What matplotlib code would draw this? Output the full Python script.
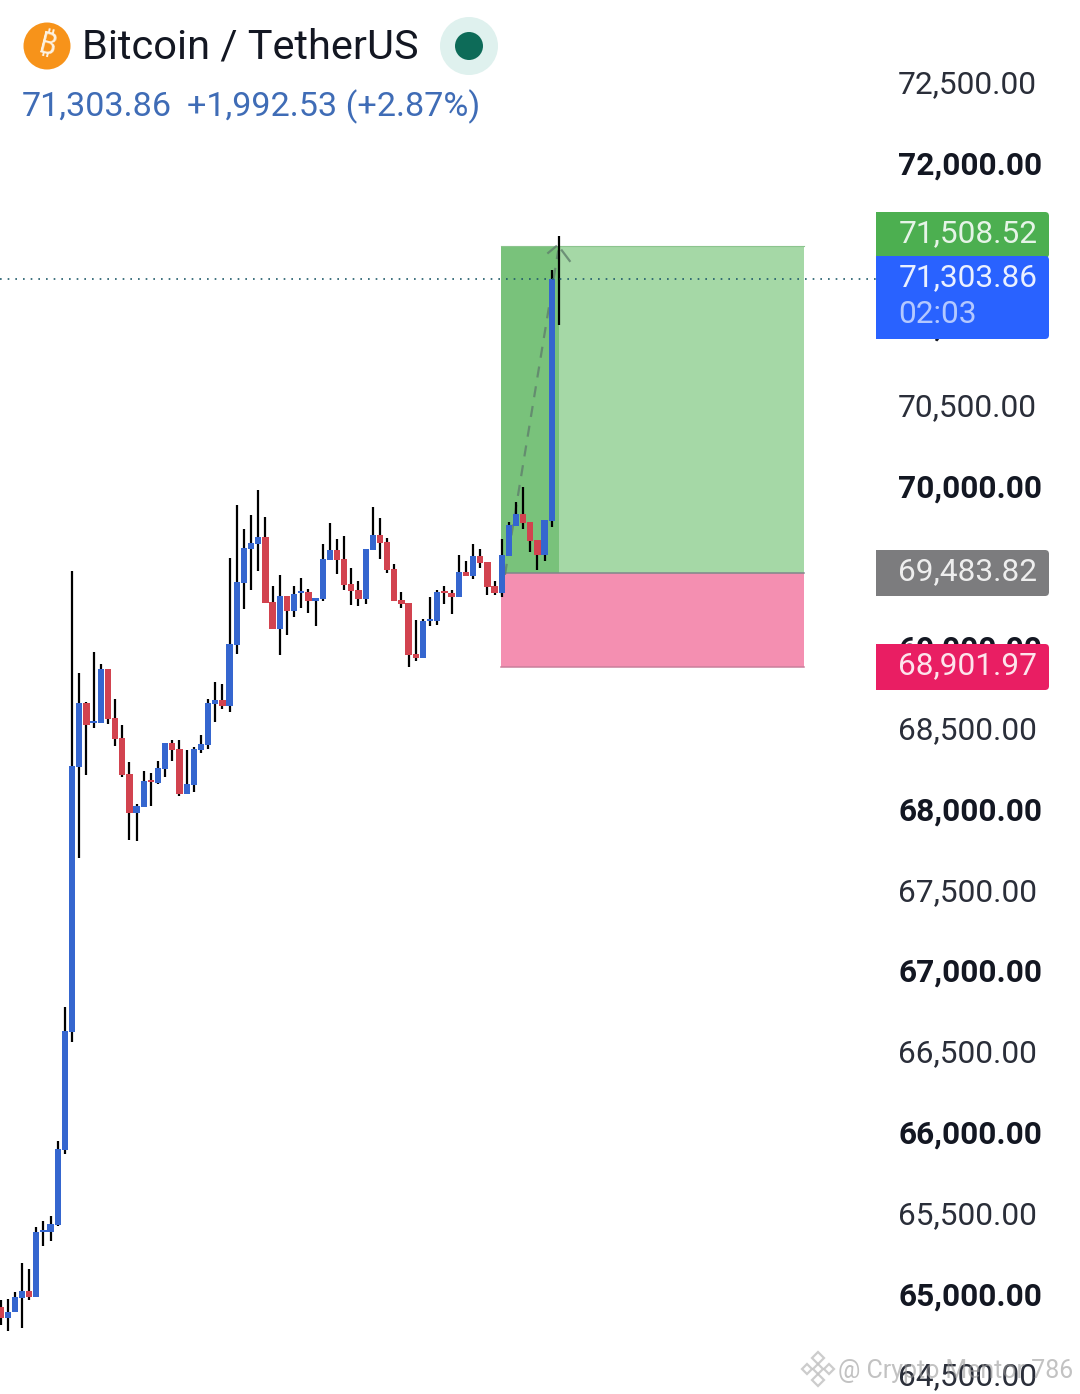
import matplotlib
matplotlib.use("Agg")
import matplotlib.pyplot as plt
from matplotlib import font_manager as fm
from matplotlib.ft2font import FT2Font
from matplotlib.patches import Rectangle, FancyBboxPatch, Circle, Polygon
from matplotlib.transforms import ScaledTranslation
import numpy as np

opens = [64941,64873,64910,64996,65040,65002,65405,65405,65448,65912,
         66643,68282,68679,68555,68555,68890,68586,68462,68239,67998,
         68035,68202,68183,68270,68431,68394,68115,68171,68388,68419,
         68673,68698,68660,69038,69422,69632,69663,69706,69304,69137,
         69341,69248,69360,69366,69310,69323,69564,69626,69570,69415,
         69378,69323,69626,69719,69675,69508,69316,69298,68982,68957,
         69186,69186,69372,69360,69335,69490,69465,69589,69551,69403,
         69360,69589,69774,69849,69799,69688,69595,69805,71304]
highs = [64984,64990,65033,65213,65176,65436,65473,65504,65968,66797,
         69495,68865,68685,68995,68921,68890,68704,68543,68314,68053,
         68258,68245,68320,68431,68450,68450,68388,68406,68480,68704,
         68809,68797,69576,69904,69756,69842,69997,69830,69403,69471,
         69341,69403,69452,69384,69329,69663,69793,69694,69712,69514,
         69434,69632,69892,69824,69700,69539,69366,69298,69192,69198,
         69335,69378,69403,69378,69595,69558,69663,69632,69551,69434,
         69694,69799,69923,70016,69799,69688,69812,71359,71569]
lows = [64829,64792,64910,64811,64984,65002,65318,65349,65442,65887,
        66581,67720,68233,68524,68555,68549,68413,68221,67831,67825,
        68035,68041,68177,68221,68320,68103,68115,68128,68369,68394,
        68561,68642,68623,68982,69261,69378,69496,69298,69137,68976,
        69100,69211,69267,69236,69155,69310,69564,69477,69378,69285,
        69279,69292,69626,69570,69483,69310,69267,68902,68939,68957,
        69155,69161,69292,69230,69335,69465,69446,69514,69347,69347,
        69335,69589,69774,69756,69614,69502,69558,69768,71018]
closes = [64873,64910,65002,65040,65002,65405,65417,65454,65918,66649,
          68289,68679,68543,68568,68890,68580,68456,68233,67998,68041,
          68196,68190,68276,68431,68388,68115,68177,68394,68425,68679,
          68698,68660,69044,69428,69638,69669,69706,69298,69137,69341,
          69248,69353,69372,69310,69329,69570,69626,69564,69409,69372,
          69323,69632,69719,69669,69502,69310,69292,68976,68957,69186,
          69198,69366,69360,69335,69490,69465,69589,69545,69397,69360,
          69595,69781,69849,69793,69682,69595,69812,71303,71304]

price_ticks = [72500,72000,71500,71000,70500,70000,69500,69000,68500,
               68000,67500,67000,66500,66000,65500,65000,64500]
target_price = 71508.52
last_price = 71303.86
entry_price = 69483.82
stop_price = 68901.97
countdown = "02:03"
title = "Bitcoin / TetherUS"
quote_last = "71,303.86"
quote_change = "+1,992.53 (+2.87%)"
watermark = "@ Crypto Mentor 786"

BLUE = "#3566cf"
RED = "#d2434f"
W, H, DPI = 1080, 1394, 100
plt.rcParams["font.family"] = ["Roboto", "DejaVu Sans"]

fig = plt.figure(figsize=(W/DPI, H/DPI), dpi=DPI, facecolor="white")
ax = fig.add_axes([0, 0, 876/W, 1])
ax.set_xlim(-0.07, 122.28)
ax.set_ylim(64402.1, 73029.9)
for s in ax.spines.values():
    s.set_visible(False)
ax.set_xticks([])
ax.patch.set_alpha(0)

# Long/short position tool
x_start, x_now, x_end = 69.9, 77.96, 112.2
ax.add_patch(Rectangle((x_start, entry_price), x_end-x_start, target_price-entry_price, color="#a5d8a6", lw=0, zorder=1))
ax.add_patch(Rectangle((x_start, entry_price), x_now-x_start, target_price-entry_price, color="#79c27b", lw=0, zorder=1.1))
ax.add_patch(Rectangle((x_start, stop_price), x_end-x_start, entry_price-stop_price, color="#f48fb1", lw=0, zorder=1))
ax.plot([x_start, x_end], [entry_price]*2, color="#80868b", lw=1.1, zorder=1.2)
ax.plot([x_start, x_end], [stop_price]*2, color="#c97f9b", lw=1.1, zorder=1.2)
ax.plot([x_start, x_end], [target_price]*2, color="#8cc48e", lw=0.8, zorder=1.2)

# Dashed projection with a dashed arrow head
dash = dict(color="#5f7f6c", lw=1.6, alpha=0.8, zorder=1.5)
ax.plot([70.0, 77.9], [69350, 71480], dashes=(5, 4), **dash)
ax.plot([76.5, 77.6], [71465, 71505], **dash)
ax.plot([78.4, 79.5], [71480, 71415], **dash)

idx = np.arange(len(opens))
o, h, l, c = map(np.array, (opens, highs, lows, closes))
ax.vlines(idx, l, h, color="black", lw=1.6, zorder=2)
up = c >= o
ax.bar(idx[up], (c-o)[up], bottom=o[up], width=0.88, color=BLUE, lw=0, zorder=3)
ax.bar(idx[~up], (o-c)[~up], bottom=c[~up], width=0.88, color=RED, lw=0, zorder=3)

ax.plot([-0.07, 122.28], [last_price]*2, color="#1f5a6a", lw=1.2, dashes=(1, 3.6), zorder=4)

# Price scale
ax.yaxis.tick_right()
ax.set_yticks(price_ticks)
ax.set_yticklabels([f"{p:,.2f}" for p in price_ticks])
ax.tick_params(axis="y", length=0, pad=16, labelsize=22.8)
for p, lab in zip(price_ticks, ax.get_yticklabels()):
    lab.set_transform(lab.get_transform() + ScaledTranslation(0, 4.2/DPI, fig.dpi_scale_trans))
    if p % 1000 == 0:
        lab.set_fontweight("bold")
        lab.set_color("#131722")
    else:
        lab.set_color("#2a2e39")

# Overlay in pixel coordinates
ov = fig.add_axes([0, 0, 1, 1], zorder=10)
ov.set_xlim(0, W)
ov.set_ylim(H, 0)
ov.axis("off")
ov.patch.set_alpha(0)

def price_box(y0, y1, color):
    ov.add_patch(FancyBboxPatch((880, y0+4), 165, y1-y0-8, boxstyle="round,pad=4,rounding_size=4", color=color, lw=0))
    ov.add_patch(Rectangle((876, y0), 12, y1-y0, color=color, lw=0))

price_box(212, 258, "#4caf50")
price_box(256, 339, "#2962ff")
price_box(550, 596, "#7c7c7e")
price_box(644, 690, "#e91e63")
lab = dict(fontsize=22.8, ha="left", va="center")
ov.text(898.5, 233.5, f"{target_price:,.2f}", color="#e6f4e7", **lab)
ov.text(898.5, 277.5, f"{last_price:,.2f}", color="#eaf0ff", **lab)
ov.text(898.5, 314.5, countdown, color="#b3c8ff", **lab)
ov.text(898.5, 571.5, f"{entry_price:,.2f}", color="#eeeeee", **lab)
ov.text(898.5, 665.5, f"{stop_price:,.2f}", color="#fde4ec", **lab)

# Header
ov.add_patch(Circle((47, 46), 23.5, color="#f7931a", lw=0))

def family_with(ch):
    for name in ["DejaVu Sans", "Noto Sans", "Inter", "Open Sans", "Lato", "Roboto",
                 "Liberation Sans", "Noto Sans CJK SC"]:
        try:
            path = fm.findfont(fm.FontProperties(family=name, weight="bold"), fallback_to_default=False)
            if FT2Font(path).get_char_index(ord(ch)):
                return name
        except Exception:
            continue
    return None

btc_family = family_with("\u20bf")
if btc_family:
    ov.text(47, 46, "\u20bf", color="#fdf3e3", fontsize=22, fontweight="bold", ha="center", va="center",
            rotation=-14, family=[btc_family])
else:
    ov.text(47, 46, "B", color="#fdf3e3", fontsize=21, fontweight="bold", ha="center", va="center",
            rotation=-14)
    for dx, dy in [(-1.5, -14), (3.5, -13), (-4.5, 13), (0.5, 14)]:
        ov.plot([47+dx, 47+dx+0.5], [46+dy, 46+dy+2.5], color="#fdf3e3", lw=1.6)

ov.text(82, 47, title, color="#131722", fontsize=29.85, ha="left", va="center")
ov.add_patch(Circle((469, 46), 29, color="#dff1ee", lw=0))
ov.add_patch(Circle((469, 46), 14, color="#0d6b58", lw=0))
ov.text(22, 107, quote_last, color="#3f6cb6", fontsize=24.6, ha="left", va="center")
ov.text(187, 107, quote_change, color="#3f6cb6", fontsize=24.6, ha="left", va="center")

# Watermark
ov.text(838, 1371, watermark, color="#9a9a9a", alpha=0.6, fontsize=17.9, ha="left", va="center")
for cx, cy, r in [(818, 1358, 6), (807, 1369, 5), (829, 1369, 5), (818, 1369, 5), (818, 1380, 6)]:
    ov.add_patch(Polygon([(cx-r, cy), (cx, cy-r), (cx+r, cy), (cx, cy+r)], closed=True, fill=False,
                         edgecolor="#c4c4c4", lw=1.6, alpha=0.85))
ov.set_xlim(0, W)
ov.set_ylim(H, 0)

fig.savefig("out.png", dpi=DPI, facecolor="white")
